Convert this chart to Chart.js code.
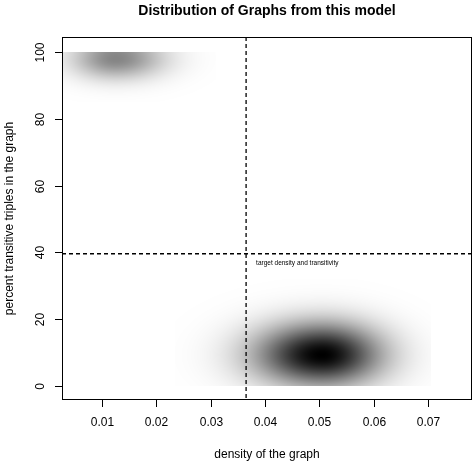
<!DOCTYPE html>
<html><head><meta charset="utf-8">
<script src="https://cdn.jsdelivr.net/npm/chart.js@4"></script>
<style>html,body{margin:0;padding:0;background:#fff}#c{display:block}</style>
</head><body>
<div style="width:474px;height:466px"><canvas id="c" width="474" height="466"></canvas></div>
<script>
const xTicks = [0.01, 0.02, 0.03, 0.04, 0.05, 0.06, 0.07];
const xTickLabels = ["0.01","0.02","0.03","0.04","0.05","0.06","0.07"];
const yTicks = [0, 20, 40, 60, 80, 100];
const yTickLabels = ["0","20","40","60","80","100"];
// density blobs: center, spreads (left/right/down/up), peak darkness, clip box
const blobCx = [0.0505, 0.0125];
const blobCy = [9.3, 98];
const blobSxL = [0.0085, 0.0055];
const blobSxR = [0.0075, 0.0062];
const blobSyD = [6.4, 4.2];
const blobSyU = [6.6, 6];
const blobPeak = [1.0, 0.48];
const blobXmin = [0.0235, 0.0];
const blobXmax = [0.0705, 0.031];
const blobYmin = [0, 85];
const blobYmax = [32, 100];
const targetX = [0.0365];
const targetY = [39.6];
const targetLabel = "target density and transitivity";
const FONT = '"Liberation Sans", Arial, sans-serif';

const drawPlugin = {
  id: 'rstyle',
  beforeDatasetsDraw(chart) {
    const {ctx, chartArea: a, scales: {x, y}} = chart;
    const w = Math.round(a.right - a.left), h = Math.round(a.bottom - a.top);
    const img = ctx.createImageData(w, h);
    for (let j = 0; j < h; j++) {
      const vy = y.getValueForPixel(a.top + j + 0.5);
      for (let i = 0; i < w; i++) {
        const vx = x.getValueForPixel(a.left + i + 0.5);
        let d = 0;
        for (let k = 0; k < blobCx.length; k++) {
          if (vx < blobXmin[k] || vx > blobXmax[k] || vy < blobYmin[k] || vy > blobYmax[k]) continue;
          const dx = vx - blobCx[k], dy = vy - blobCy[k];
          const sx = dx < 0 ? blobSxL[k] : blobSxR[k];
          const sy = dy < 0 ? blobSyD[k] : blobSyU[k];
          d += blobPeak[k] * Math.exp(-0.5 * (dx*dx/(sx*sx) + dy*dy/(sy*sy)));
        }
        d = Math.min(1, d);
        const g = Math.round(255 * (1 - d));
        const p = (j * w + i) * 4;
        img.data[p] = g; img.data[p+1] = g; img.data[p+2] = g; img.data[p+3] = 255;
      }
    }
    ctx.putImageData(img, Math.round(a.left), Math.round(a.top));
  },
  afterDatasetsDraw(chart) {
    const {ctx, chartArea: a, scales: {x, y}} = chart;
    ctx.save();
    ctx.strokeStyle = '#000'; ctx.fillStyle = '#000'; ctx.lineWidth = 1;
    ctx.setLineDash([4, 3]); ctx.lineWidth = 1.3;
    ctx.beginPath();
    const tx = x.getPixelForValue(targetX[0]), ty = y.getPixelForValue(targetY[0]);
    ctx.moveTo(tx, a.top); ctx.lineTo(tx, a.bottom);
    ctx.moveTo(a.left, ty); ctx.lineTo(a.right, ty);
    ctx.stroke();
    ctx.setLineDash([]); ctx.lineWidth = 1;
    ctx.font = '6.5px ' + FONT; ctx.textAlign = 'left'; ctx.textBaseline = 'middle';
    ctx.fillText(targetLabel, tx + 10, ty + 9);
    ctx.strokeRect(a.left + 0.5, a.top + 0.5, a.right - a.left - 1, a.bottom - a.top - 1);
    ctx.font = '12px ' + FONT; ctx.textAlign = 'center'; ctx.textBaseline = 'middle';
    xTicks.forEach((v, i) => {
      const px = Math.round(x.getPixelForValue(v)) + 0.5;
      ctx.beginPath(); ctx.moveTo(px, a.bottom); ctx.lineTo(px, a.bottom + 7); ctx.stroke();
      ctx.fillText(xTickLabels[i], px, a.bottom + 23);
    });
    yTicks.forEach((v, i) => {
      const py = Math.round(y.getPixelForValue(v)) + 0.5;
      ctx.beginPath(); ctx.moveTo(a.left, py); ctx.lineTo(a.left - 7, py); ctx.stroke();
      ctx.save(); ctx.translate(a.left - 21, py); ctx.rotate(-Math.PI / 2);
      ctx.fillText(yTickLabels[i], 0, 0); ctx.restore();
    });
    ctx.fillText('density of the graph', (a.left + a.right) / 2, 455);
    ctx.save(); ctx.translate(10, (a.top + a.bottom) / 2); ctx.rotate(-Math.PI / 2);
    ctx.fillText('percent transitive triples in the graph', 0, 0); ctx.restore();
    ctx.font = 'bold 14px ' + FONT;
    ctx.fillText('Distribution of Graphs from this model', (a.left + a.right) / 2, 11);
    ctx.restore();
  }
};

new Chart(document.getElementById('c'), {
  type: 'scatter',
  data: { datasets: [{ data: [], pointRadius: 0 }] },
  options: {
    responsive: false, animation: false,
    layout: { padding: { left: 62, top: 37, right: 2, bottom: 66 } },
    plugins: { legend: { display: false }, tooltip: { enabled: false } },
    scales: {
      x: { display: false, min: 0.0026, max: 0.0781 },
      y: { display: false, min: -4.2, max: 104.5 }
    }
  },
  plugins: [drawPlugin]
});
</script>
</body></html>
